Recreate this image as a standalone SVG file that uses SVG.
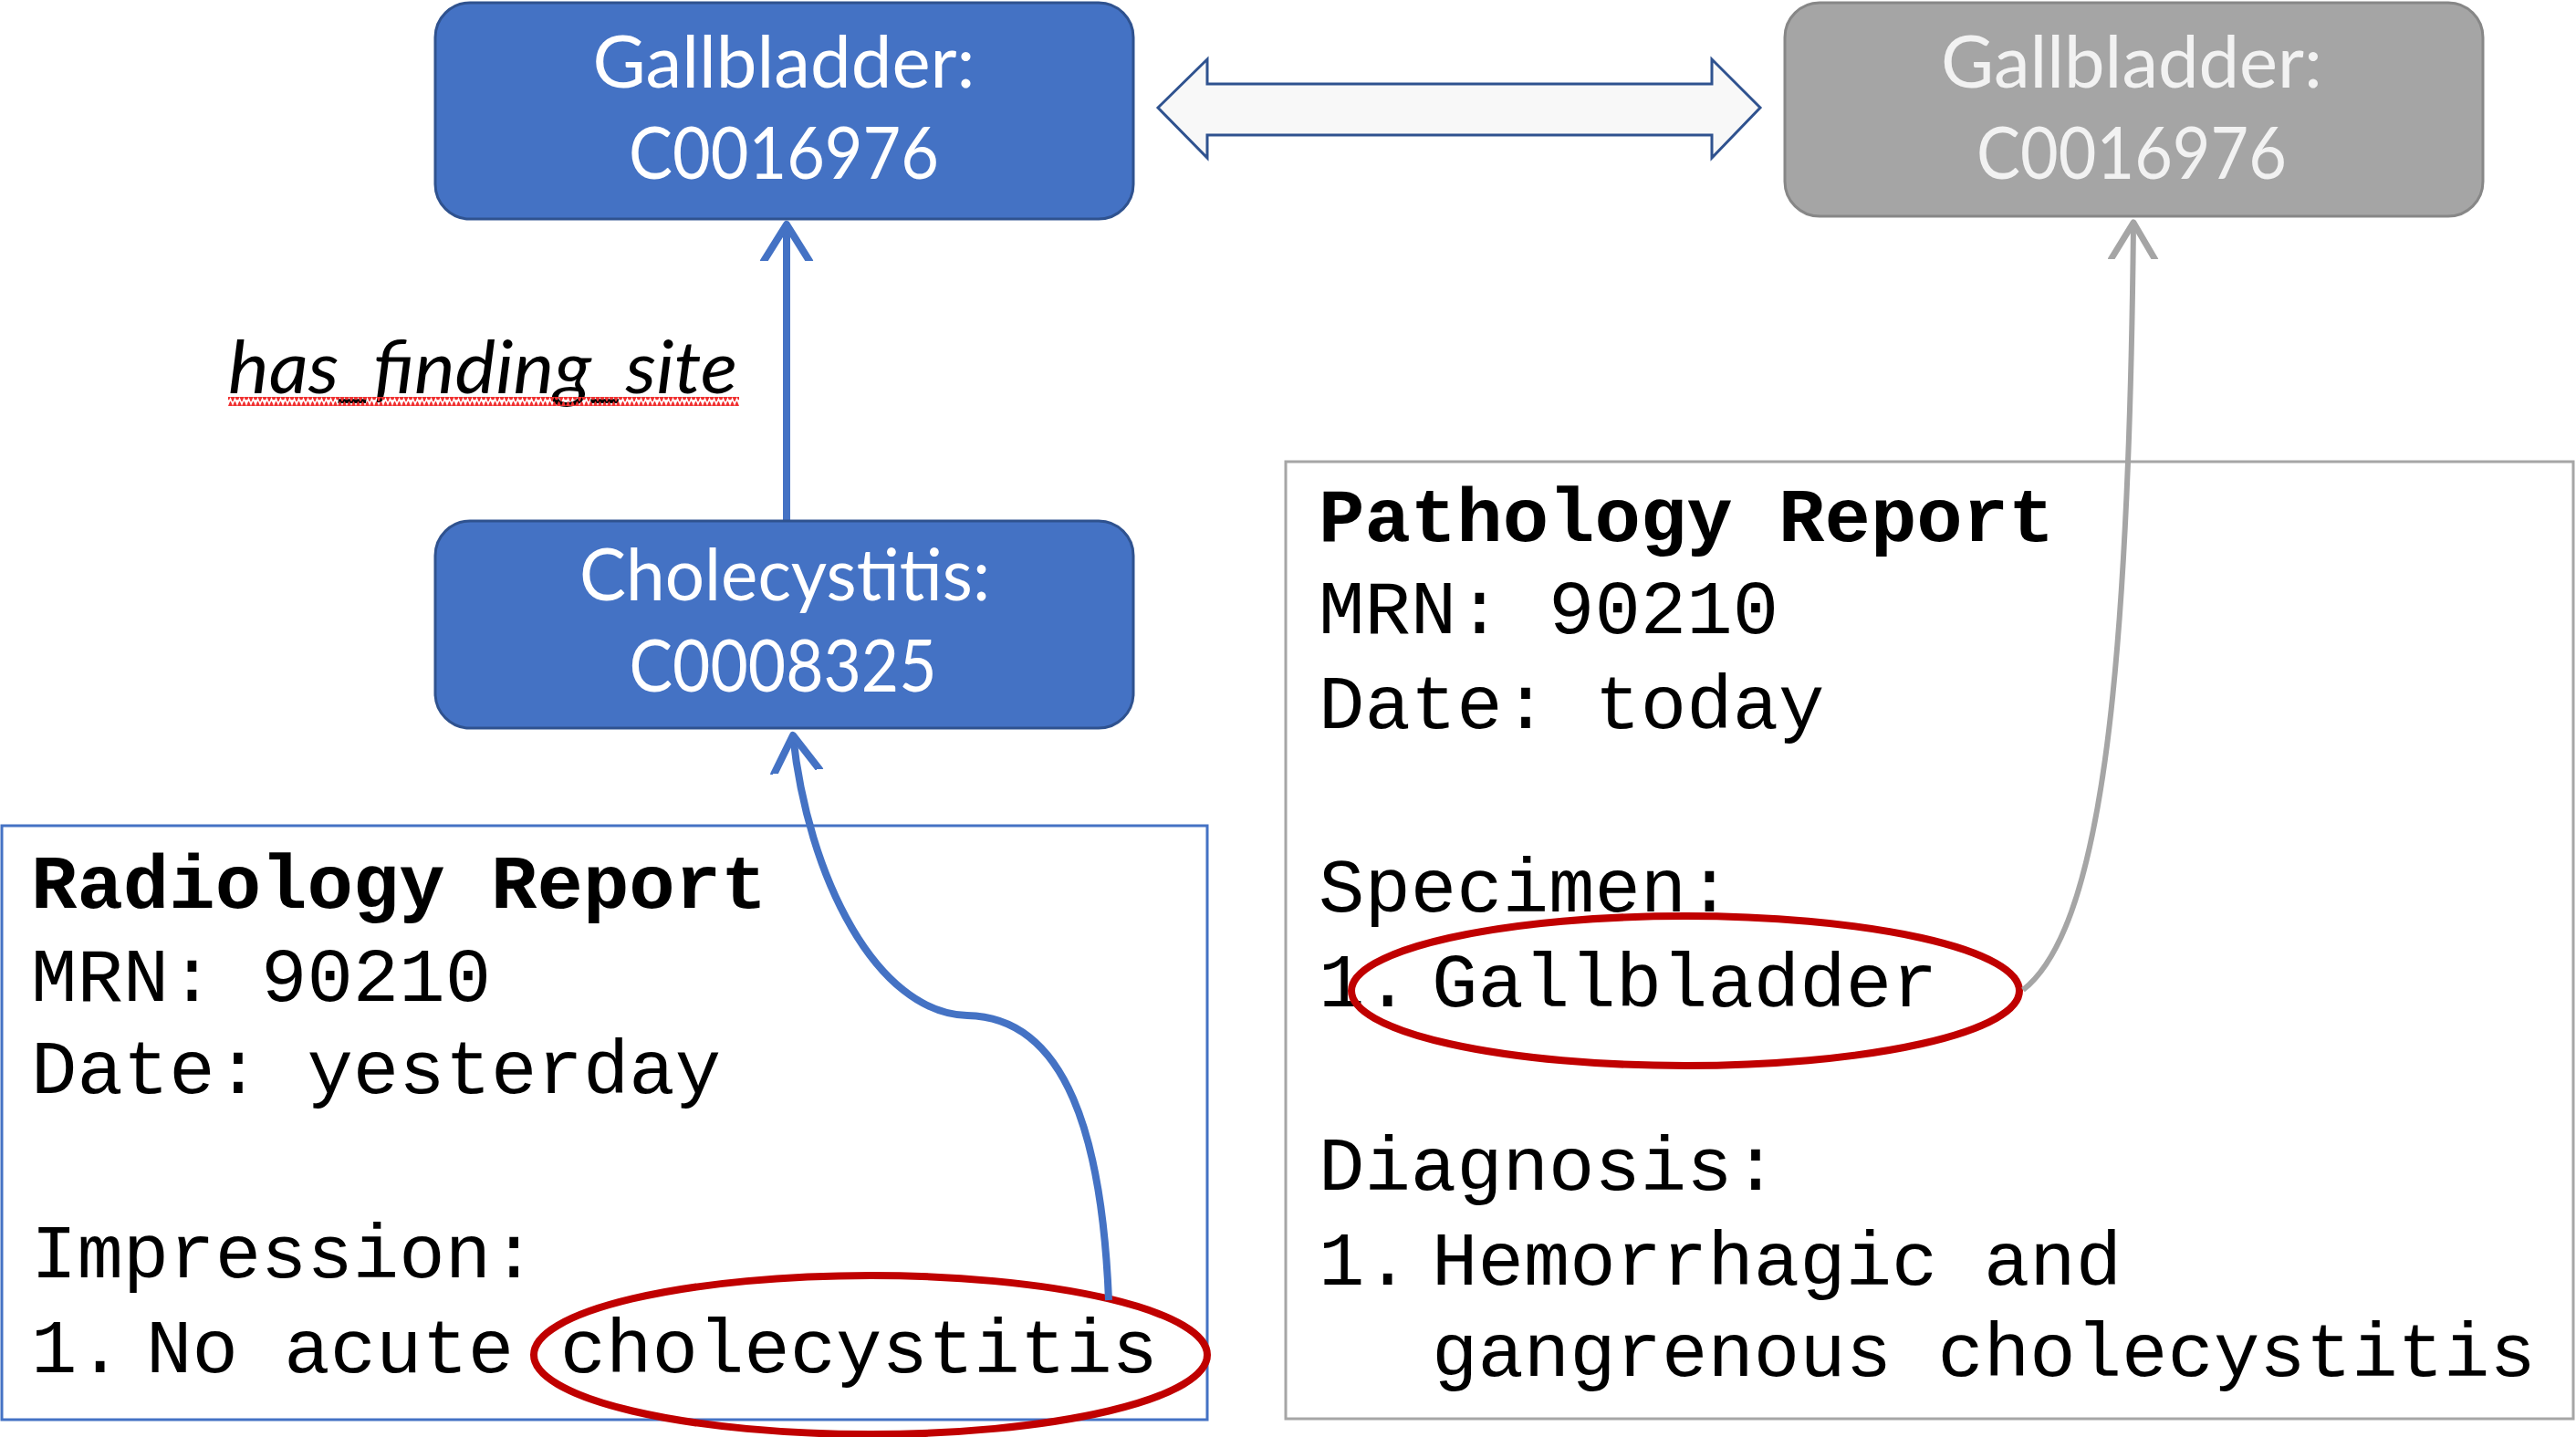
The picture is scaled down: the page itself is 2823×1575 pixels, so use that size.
<svg xmlns="http://www.w3.org/2000/svg" width="2823" height="1575" viewBox="0 0 2823 1575">
<style>
.blue{fill:#4472C4;stroke:#2F528F;stroke-width:3}
.gray{fill:#A5A5A5;stroke:#878787;stroke-width:3}
.nt{font-family:Lato,"Open Sans",sans-serif;font-size:80px;fill:#FFFFFF;text-anchor:middle}
.gt{fill:#F2F2F2}
.mono{font-family:"Liberation Mono","Courier New",monospace;font-size:84px;fill:#000000}
.bold{font-weight:bold}
.lbl{font-family:Lato,"Open Sans",sans-serif;font-size:80px;font-style:italic;fill:#000000}
.red{fill:none;stroke:#C00000;stroke-width:8}
</style>
<defs>
<marker id="ab" markerUnits="userSpaceOnUse" markerWidth="80" markerHeight="80" refX="40" refY="40" orient="auto" viewBox="0 0 80 80">
<path d="M0,15 L40,40 L0,65" fill="none" stroke="#4472C4" stroke-width="8" stroke-linecap="round" stroke-linejoin="round"/>
</marker>
<marker id="ag" markerUnits="userSpaceOnUse" markerWidth="80" markerHeight="80" refX="40" refY="40" orient="auto" viewBox="0 0 80 80">
<path d="M0,16 L40,40 L0,64" fill="none" stroke="#A5A5A5" stroke-width="7" stroke-linecap="round" stroke-linejoin="round"/>
</marker>
<pattern id="wave" width="10" height="10" patternUnits="userSpaceOnUse">
<path d="M0,8 L2.5,2 L5,8 L7.5,2 L10,8" fill="none" stroke="#F03030" stroke-width="2.4"/>
</pattern>
</defs>

<g id="radiology-report">
<rect x="2" y="905" width="1321" height="651" fill="#FFFFFF" stroke="#4472C4" stroke-width="3"/>
<g class="mono" xml:space="preserve">
<text x="34" y="995" class="bold">Radiology Report</text>
<text x="34" y="1097">MRN: 90210</text>
<text x="34" y="1198">Date: yesterday</text>
<text x="34" y="1400">Impression:</text>
<text x="34" y="1504">1.</text>
<text x="160" y="1504">No acute cholecystitis</text>
</g>
</g>

<g id="pathology-report">
<rect x="1409" y="506" width="1411" height="1049" fill="#FFFFFF" stroke="#A6A6A6" stroke-width="3"/>
<g class="mono" xml:space="preserve">
<text x="1445" y="593" class="bold">Pathology Report</text>
<text x="1445" y="694">MRN: 90210</text>
<text x="1445" y="798">Date: today</text>
<text x="1445" y="999">Specimen:</text>
<text x="1445" y="1103">1.</text>
<text x="1569" y="1103">Gallbladder</text>
<text x="1445" y="1304">Diagnosis:</text>
<text x="1445" y="1408">1.</text>
<text x="1569" y="1408">Hemorrhagic and</text>
<text x="1569" y="1508">gangrenous cholecystitis</text>
</g>
</g>

<g id="highlights">
<ellipse class="red" cx="954" cy="1485" rx="369" ry="87"/>
<ellipse class="red" cx="1847" cy="1086" rx="366" ry="82"/>
</g>

<g id="connectors">
<line x1="862" y1="570" x2="862" y2="246" stroke="#4472C4" stroke-width="8" marker-end="url(#ab)"/>
<path d="M1215,1425 C1208,1250 1170,1115 1060,1113 C960,1110 885,960 869,806" fill="none" stroke="#4472C4" stroke-width="8" marker-end="url(#ab)"/>
<path d="M2217,1085 C2300,1020 2333,760 2338,244" fill="none" stroke="#A5A5A5" stroke-width="6" marker-end="url(#ag)"/>
<path d="M1269,118 L1323,65 L1323,92 L1876,92 L1876,65 L1929,118 L1876,173 L1876,148 L1323,148 L1323,173 Z" fill="#F8F8F8" stroke="#2F528F" stroke-width="3" stroke-linejoin="miter"/>
<g id="label-has-finding-site">
<text class="lbl" x="250" y="431" textLength="558" lengthAdjust="spacingAndGlyphs">has_finding_site</text>
<rect x="250" y="435" width="560" height="10" fill="url(#wave)"/>
</g>
</g>

<g id="node-gallbladder-blue">
<rect class="blue" x="477" y="3" width="765" height="237" rx="38"/>
<text class="nt" x="859" y="96" textLength="419" lengthAdjust="spacingAndGlyphs">Gallbladder:</text>
<text class="nt" x="859" y="196" textLength="340" lengthAdjust="spacingAndGlyphs">C0016976</text>
</g>

<g id="node-cholecystitis">
<rect class="blue" x="477" y="571" width="765" height="227" rx="38"/>
<text class="nt" x="860" y="658" textLength="450" lengthAdjust="spacingAndGlyphs">Cholecystitis:</text>
<text class="nt" x="858" y="758" textLength="337" lengthAdjust="spacingAndGlyphs">C0008325</text>
</g>

<g id="node-gallbladder-gray">
<rect class="gray" x="1956" y="3" width="765" height="234" rx="38"/>
<text class="nt gt" x="2336" y="96" textLength="418" lengthAdjust="spacingAndGlyphs">Gallbladder:</text>
<text class="nt gt" x="2336" y="196" textLength="340" lengthAdjust="spacingAndGlyphs">C0016976</text>
</g>
</svg>
